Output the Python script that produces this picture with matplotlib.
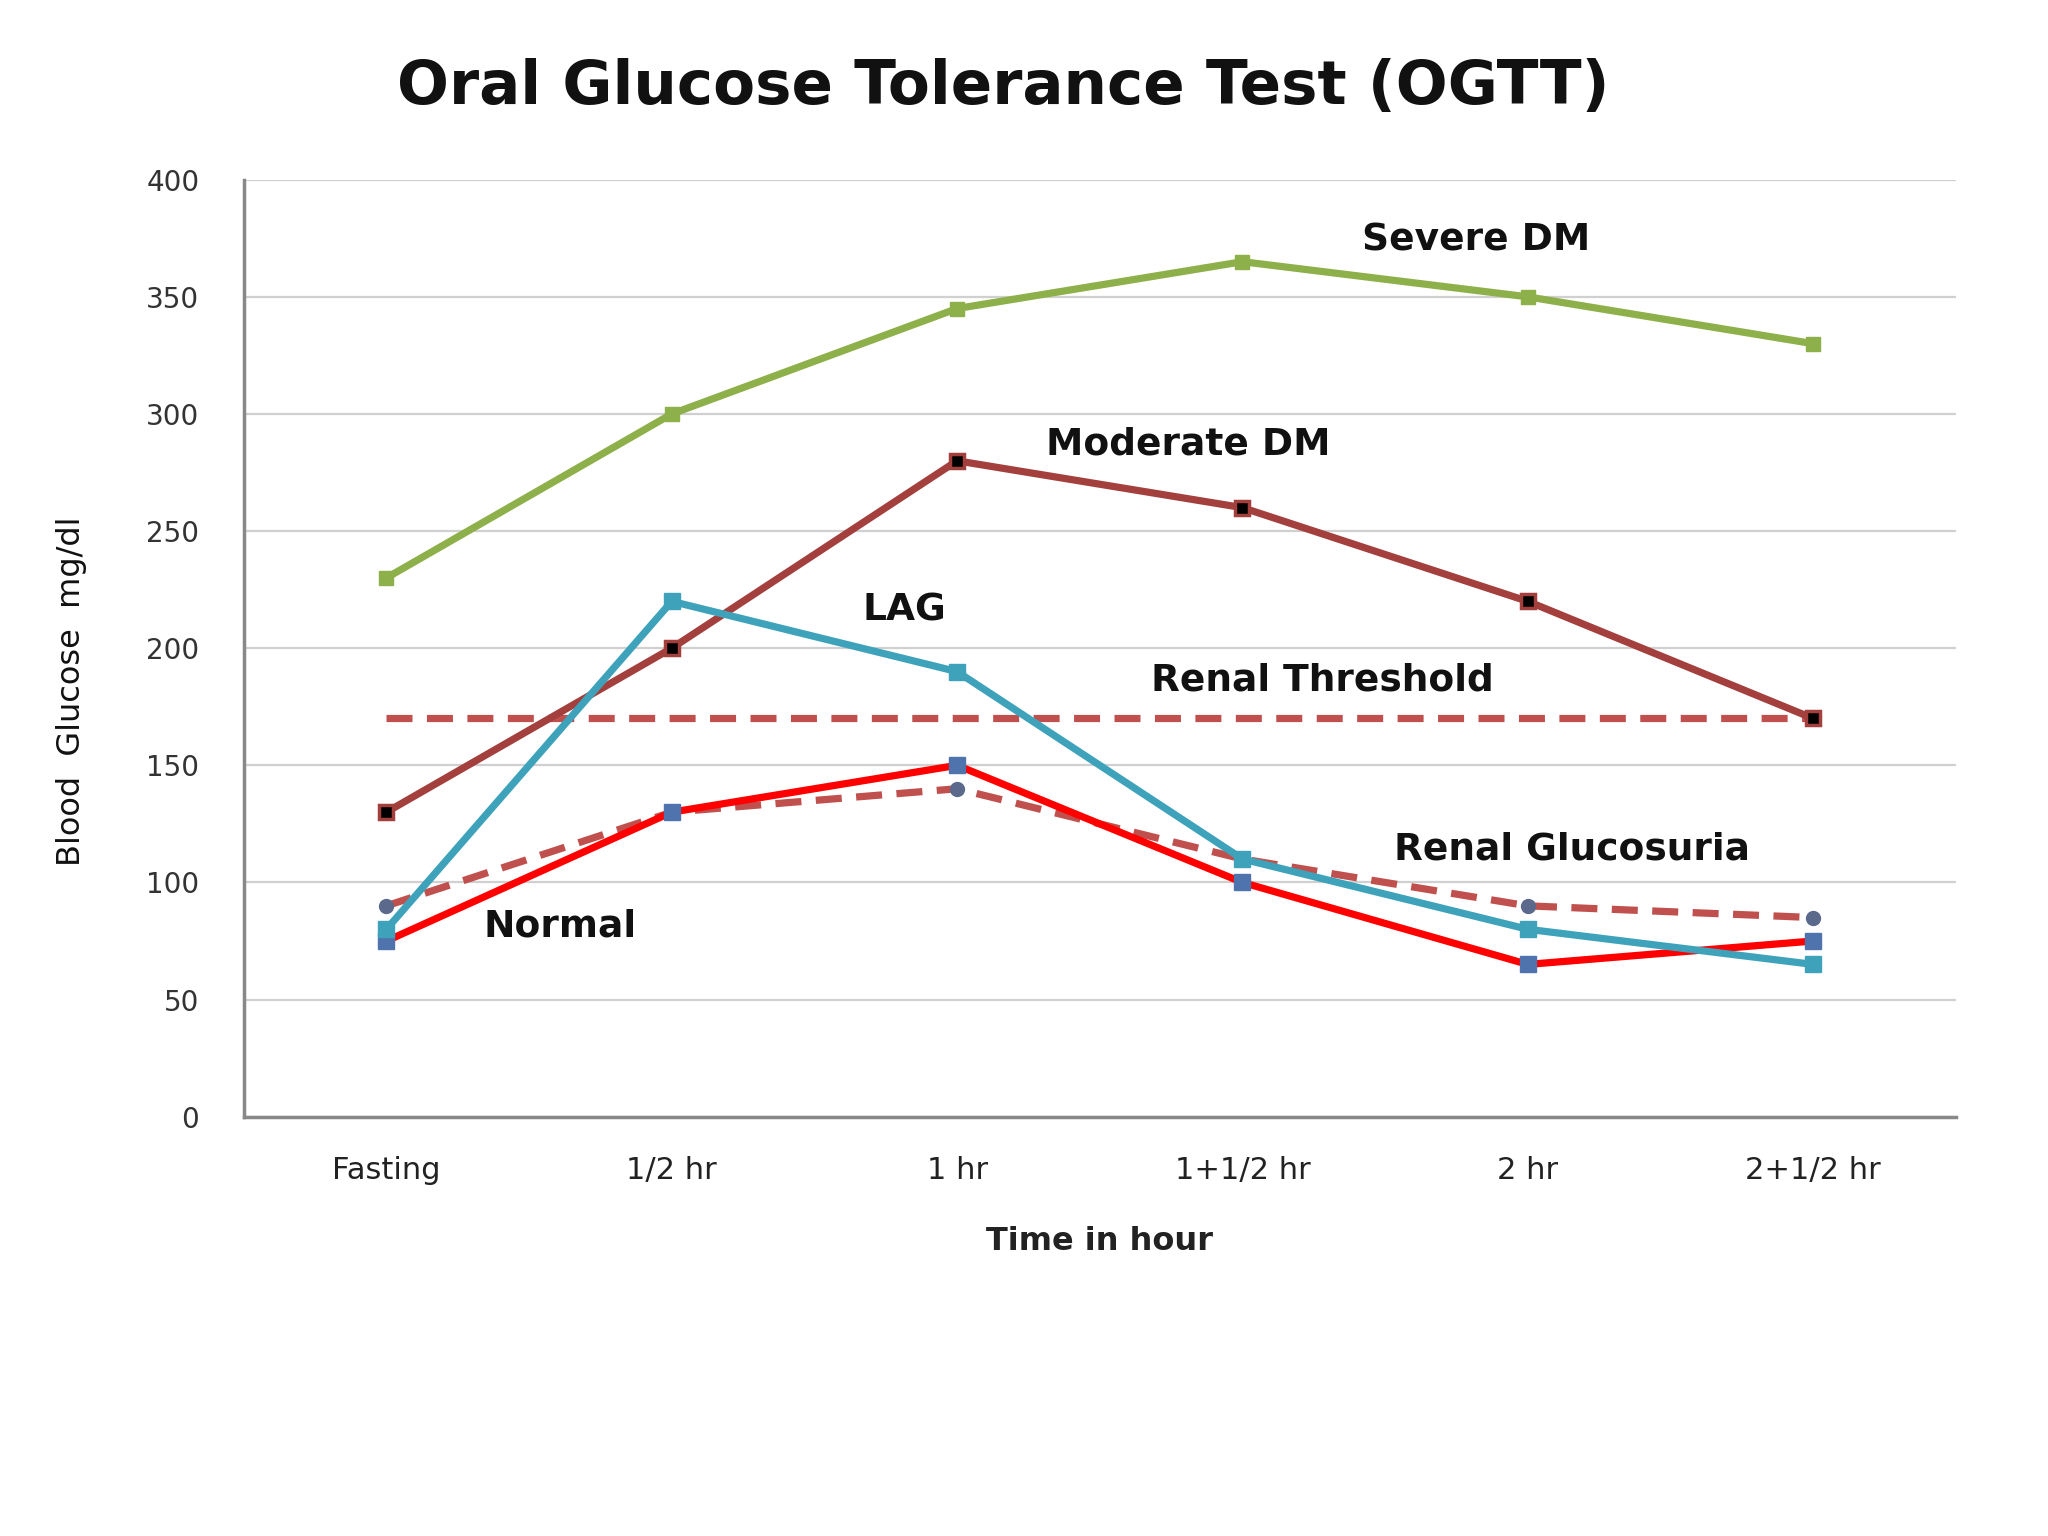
import matplotlib
matplotlib.use("Agg")
import matplotlib.pyplot as plt

categories = ["Fasting", "1/2 hr", "1 hr", "1+1/2 hr", "2 hr", "2+1/2 hr"]
severe_dm = [230, 300, 345, 365, 350, 330]
moderate_dm = [130, 200, 280, 260, 220, 170]
lag = [80, 220, 190, 110, 80, 65]
normal = [75, 130, 150, 100, 65, 75]
renal_glucosuria = [90, 130, 140, 110, 90, 85]
renal_threshold = [170, 170, 170, 170, 170, 170]
yticks = [0, 50, 100, 150, 200, 250, 300, 350, 400]

fig = plt.figure(figsize=(20.48, 15.36), dpi=100)
ax = fig.add_axes([0.119, 0.273, 0.836, 0.61])
x = list(range(len(categories)))

LW = 5.2
ax.plot(x, renal_threshold, color="#C0504D", lw=LW, ls=(0, (3.6, 2.0)), zorder=3)
ax.plot(x, renal_glucosuria, color="#C0504D", lw=LW, ls=(0, (3.6, 2.0)), marker="o",
        markersize=10, markerfacecolor="#5B6A8C", markeredgecolor="#5B6A8C", zorder=3)
ax.plot(x, severe_dm, color="#8DB04A", lw=LW, marker="s", markersize=10,
        markerfacecolor="#8DB04A", markeredgecolor="#8DB04A", zorder=4)
ax.plot(x, moderate_dm, color="#A33F3C", lw=LW, marker="s", markersize=10,
        markerfacecolor="black", markeredgecolor="#A33F3C", markeredgewidth=2.5, zorder=4)
ax.plot(x, normal, color="#FF0000", lw=LW, marker="s", markersize=11,
        markerfacecolor="#4F73AD", markeredgecolor="#4F73AD", zorder=5)
ax.plot(x, lag, color="#3EA2BA", lw=LW, marker="s", markersize=11,
        markerfacecolor="#3EA2BA", markeredgecolor="#3EA2BA", zorder=6)

ax.set_xlim(-0.5, 5.5)
ax.set_ylim(0, 400)
ax.set_yticks(yticks)
ax.set_yticklabels([str(v) for v in yticks], fontsize=20, color="#333333")
ax.set_xticks(x)
ax.set_xticklabels(categories, fontsize=22, color="#222222")
ax.tick_params(axis="y", length=0, pad=32)
ax.tick_params(axis="x", length=0, pad=28)
ax.yaxis.grid(True, color="#D0D0D0", lw=1.6)
ax.set_axisbelow(True)
for s in ["top", "right"]:
    ax.spines[s].set_visible(False)
for s in ["left", "bottom"]:
    ax.spines[s].set_color("#888888")
    ax.spines[s].set_linewidth(2.5)

ax.set_xlabel("Time in hour", fontsize=23, fontweight="bold", labelpad=30, color="#222222")
fig.text(0.035, 0.55, "Blood  Glucose  mg/dl", rotation=90, fontsize=23,
         ha="center", va="center", color="#111111")

fig.text(0.49, 0.943, "Oral Glucose Tolerance Test (OGTT)", fontsize=44,
         fontweight="bold", ha="center", va="center", color="#111111")

ann = dict(fontsize=27, fontweight="bold", color="#111111", ha="left", va="center")
ax.text(3.42, 374, "Severe DM", **ann)
ax.text(2.31, 287, "Moderate DM", **ann)
ax.text(1.67, 216, "LAG", **ann)
ax.text(2.68, 186, "Renal Threshold", **ann)
ax.text(3.53, 114, "Renal Glucosuria", **ann)
ax.text(0.34, 81, "Normal", **ann)

fig.savefig("out.png", dpi=100, facecolor="white")
